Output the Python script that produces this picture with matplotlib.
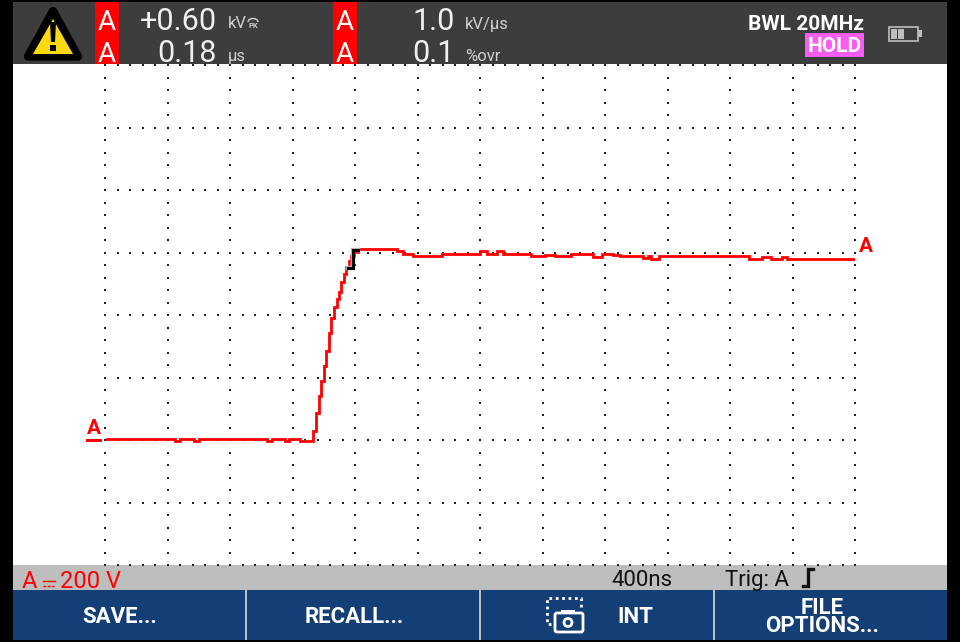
import numpy as np
import matplotlib
matplotlib.use("Agg")
import matplotlib.pyplot as plt
from matplotlib.patches import Rectangle, Polygon, Circle, FancyBboxPatch, Arc

plt.rcParams["font.family"] = ["Roboto", "DejaVu Sans"]

# trace, channel A: time in ns from the left of the screen, level in volts (step)
trace_t_ns = [13, 448, 480, 570, 602, 1037, 1069, 1152, 1178, 1248, 1329, 1348, 1370, 1382,
              1400, 1414, 1434, 1446, 1464, 1483, 1498, 1510, 1528, 1542, 1560, 1574, 1594,
              1617, 1867, 1907, 1971, 2155, 2400, 2445, 2509, 2547, 2724, 2816, 2880, 2982,
              3123, 3179, 3251, 3296, 3443, 3475, 3493, 3546, 4122, 4203, 4260, 4333, 4365, 4800]
trace_v = [0, -6, 0, -6, 0, -6, 0, -6, 0, -6, 25, 82, 137, 186,
           233, 281, 338, 386, 422, 447, 470, 502, 527, 550, 569, 586, 597,
           606, 601, 592, 584, 591, 601, 591, 601, 591, 584, 588, 584, 591,
           582, 591, 588, 585, 577, 585, 575, 584, 575, 582, 576, 582, 575, 575]

# trigger mark on the trace
trig_t_ns = [1557, 1586, 1586, 1620]
trig_v = [545, 545, 603, 603]

ns_per_div = 400
volt_per_div = 200
n_xdiv = 12
n_ydiv = 8
sub_div = 5

softkeys = ["SAVE...", "RECALL...", "INT"]
softkey_x = [119.5, 354, 635.5]

RED = "#ff0000"
DARK = "#3d3d3d"
GREY = "#bebebe"
BLUE = "#133e76"
PINK = "#f95cf0"

fig = plt.figure(figsize=(9.6, 6.42), dpi=100, facecolor="black")

# everything round the screen is drawn in pixel coordinates
bg = fig.add_axes([0, 0, 1, 1])
bg.set_xlim(0, 960)
bg.set_ylim(642, 0)
bg.axis("off")

bg.add_patch(Rectangle((13, 2), 934, 62, color=DARK, lw=0))
bg.add_patch(Rectangle((13, 64), 934, 501, color="white", lw=0))
bg.add_patch(Rectangle((13, 565), 934, 25, color=GREY, lw=0))
bg.add_patch(Rectangle((13, 590), 934, 50, color=BLUE, lw=0))
for x in [246, 480, 714]:
    bg.add_patch(Rectangle((x - 1, 590), 2, 50, color=GREY, lw=0))

# warning sign
bg.add_patch(Polygon([(28, 56.5), (78, 56.5), (53, 11)], closed=True, fc="black", ec="black",
                     lw=6, joinstyle="round"))
bg.add_patch(Polygon([(33, 54), (73, 54), (53, 19)], closed=True, fc="#ffd90f", lw=0))
bg.add_patch(Polygon([(50, 22), (56, 22), (55, 42), (51, 42)], closed=True, fc="black", lw=0))
bg.add_patch(Rectangle((50, 45), 6, 6, color="black", lw=0))

# readouts
for x0 in [95, 333]:
    for y0, base in [(2, 29.5), (33, 61.5)]:
        bg.add_patch(Rectangle((x0, y0), 24, 30.5 if y0 == 2 else 31, color=RED, lw=0))
        bg.text(x0 + 12, base, "A", color="white", fontsize=20, ha="center", va="baseline")

bg.text(217, 30, "+0.60", color="#f0f0f0", fontsize=22, ha="right", va="baseline")
bg.text(217, 61.5, "0.18", color="#f0f0f0", fontsize=22, ha="right", va="baseline")
bg.text(455, 30, "1.0", color="#f0f0f0", fontsize=22, ha="right", va="baseline")
bg.text(455, 61.5, "0.1", color="#f0f0f0", fontsize=22, ha="right", va="baseline")
bg.text(228, 28.5, "kV", color="#d0d0d0", fontsize=12, va="baseline")
bg.text(228, 61, "µs", color="#d0d0d0", fontsize=12, va="baseline")
bg.text(465, 28.5, "kV/µs", color="#d0d0d0", fontsize=12, va="baseline")
bg.text(465, 61, "%ovr", color="#d0d0d0", fontsize=12, va="baseline")
bg.text(253, 28.5, "PK", color="#d0d0d0", fontsize=5.5, ha="center", va="baseline", fontweight="bold")
bg.add_patch(Arc((253, 22), 10, 7, theta1=180, theta2=360, color="#d0d0d0", lw=1))

bg.text(864, 30.5, "BWL 20MHz", color="white", fontsize=15, ha="right", va="baseline", fontweight="bold")
bg.add_patch(Rectangle((805, 33), 59, 24, color=PINK, lw=0))
bg.text(835, 52, "HOLD", color="white", fontsize=15, ha="center", va="baseline", fontweight="bold")

# battery
bg.add_patch(Rectangle((888.5, 26.5), 29, 14, fc="none", ec="#bdbdbd", lw=1.2))
bg.add_patch(Rectangle((918, 30), 4, 7, color="#bdbdbd", lw=0))
bg.add_patch(Rectangle((891, 29), 5.5, 9.5, color="#bdbdbd", lw=0))
bg.add_patch(Rectangle((897.5, 29), 6, 9.5, color="#bdbdbd", lw=0))

# status line
bg.text(22, 587.5, "A", color=RED, fontsize=17, va="baseline")
bg.plot([43, 55], [580.5, 580.5], color=RED, lw=1)
bg.plot([43, 55], [585.5, 585.5], color=RED, lw=1, ls=(0, (2, 1)))
bg.text(60, 587.5, "200 V", color=RED, fontsize=17, va="baseline")
bg.text(641.5, 586, "400ns", color="#111111", fontsize=16, ha="center", va="baseline")
bg.text(725, 586, "Trig: A", color="#111111", fontsize=16, va="baseline")
bg.plot([803, 807.5, 807.5, 813], [586, 586, 569, 569], color="#111111", lw=2.4, solid_joinstyle="miter")

# soft keys
for label, x in zip(softkeys, softkey_x):
    bg.text(x, 623, label, color="white", fontsize=16, ha="center", va="baseline", fontweight="bold")
bg.text(822, 613.5, "FILE", color="white", fontsize=16, ha="center", va="baseline", fontweight="bold")
bg.text(822, 632, "OPTIONS...", color="white", fontsize=16, ha="center", va="baseline", fontweight="bold")

# camera icon
bg.plot([581, 581, 547, 547, 552], [607, 597.5, 597.5, 624, 624], color="white", lw=2, ls=(0, (1, 1.3)))
bg.add_patch(FancyBboxPatch((555, 613), 28, 19, boxstyle="round,pad=0,rounding_size=2", fc="none", ec="white", lw=2))
bg.add_patch(Rectangle((561, 610), 14, 3, color="white", lw=0))
bg.add_patch(Circle((568, 622.5), 4, fc="none", ec="white", lw=2))

# channel labels
bg.text(94, 434, "A", color=RED, fontsize=15, ha="center", va="baseline", fontweight="bold")
bg.add_patch(Rectangle((86, 438.5), 16, 3.5, color=RED, lw=0))
bg.text(866, 252.5, "A", color=RED, fontsize=15, ha="center", va="baseline", fontweight="bold")

# screen: x in ns, y in volts
ax = fig.add_axes([105 / 960, 1 - 565 / 642, 750 / 960, 500 / 642])
ax.set_xlim(0, ns_per_div * n_xdiv)
ax.set_ylim(-404, -404 + volt_per_div * n_ydiv)
ax.axis("off")
ax.patch.set_alpha(0)

# dotted graticule
x_major = np.arange(n_xdiv + 1) * ns_per_div
y_major = -404 + np.arange(n_ydiv + 1) * volt_per_div
x_minor = np.arange(n_xdiv * sub_div + 1) * ns_per_div / sub_div
y_minor = -404 + np.arange(n_ydiv * sub_div + 1) * volt_per_div / sub_div
for y in y_major:
    ax.scatter(x_minor, np.full(x_minor.shape, y), s=2.5, marker="s", color="#222222", lw=0, clip_on=False, zorder=1)
for x in x_major:
    ax.scatter(np.full(y_minor.shape, x), y_minor, s=2.5, marker="s", color="#222222", lw=0, clip_on=False, zorder=1)

ax.step(trace_t_ns, trace_v, where="post", color=RED, lw=2, zorder=3, solid_joinstyle="miter")
ax.plot(trig_t_ns, trig_v, color="#bbbbbb", lw=3.2, zorder=3.5, solid_joinstyle="miter")
ax.plot(trig_t_ns, trig_v, color="black", lw=2.2, zorder=4, solid_joinstyle="miter")

fig.savefig("out.png", dpi=100, facecolor="black")
